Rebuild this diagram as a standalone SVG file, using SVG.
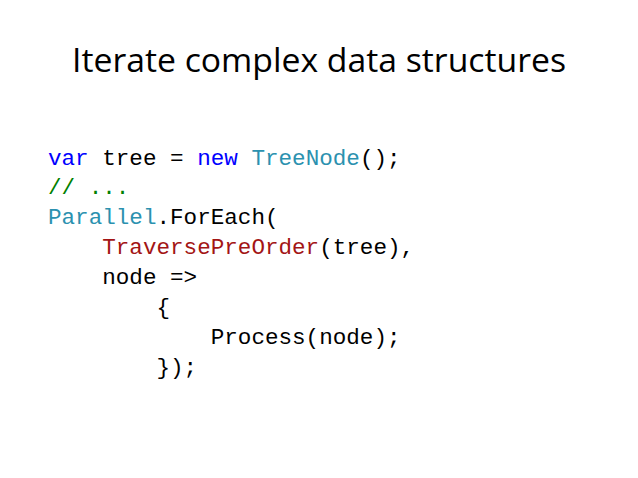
<svg xmlns="http://www.w3.org/2000/svg" width="638" height="478" viewBox="0 0 638 478">
<style>
.t{font-family:"Open Sans","Liberation Sans",sans-serif;font-size:33px;fill:#000}
.c{font-family:"Liberation Mono","DejaVu Sans Mono",monospace;font-size:22.6px;fill:#000;white-space:pre}
.k{fill:#0000ff}.ty{fill:#2b91af}.cm{fill:#008000}.m{fill:#a31515}
</style>
<rect width="638" height="478" fill="#fff"/>
<g id="title"><text class="t" x="319" y="72" text-anchor="middle" textLength="494" lengthAdjust="spacingAndGlyphs">Iterate complex data structures</text></g>
<g id="code">
<text class="c" x="48" y="165" xml:space="preserve"><tspan class="k">var</tspan> tree = <tspan class="k">new</tspan> <tspan class="ty">TreeNode</tspan>();</text>
<text class="c cm" x="48" y="194" xml:space="preserve">// ...</text>
<text class="c" x="48" y="224" xml:space="preserve"><tspan class="ty">Parallel</tspan>.ForEach(</text>
<text class="c" x="48" y="254" xml:space="preserve">    <tspan class="m">TraversePreOrder</tspan>(tree),</text>
<text class="c" x="48" y="284" xml:space="preserve">    node =&gt;</text>
<text class="c" x="48" y="314" xml:space="preserve">        {</text>
<text class="c" x="48" y="344" xml:space="preserve">            Process(node);</text>
<text class="c" x="48" y="374" xml:space="preserve">        });</text>
</g>
</svg>
